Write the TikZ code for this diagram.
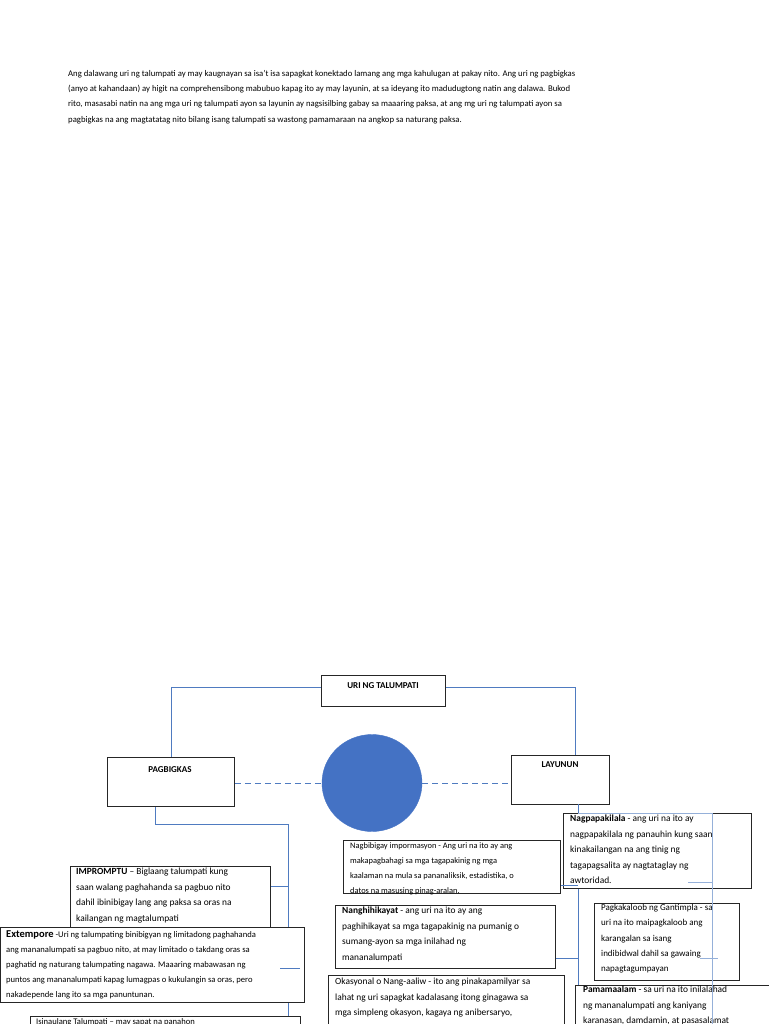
\documentclass[tikz,border=0pt]{standalone}
\usepackage{fontspec}
\setmainfont{Carlito}
\usetikzlibrary{shapes.geometric}
\definecolor{ln}{HTML}{4F7BC0}
\definecolor{blu}{HTML}{4472C4}
\begin{document}
\begin{tikzpicture}[x=1pt,y=-1pt,
  box/.style={draw=black!85,line width=0.9pt,fill=white,anchor=north west,inner sep=0pt},
  txt/.style={anchor=north west,align=left,font=\fontsize{9.4}{15.5}\selectfont,inner sep=0pt},
  cn/.style={ln,line width=0.7pt}]
\useasboundingbox (0,0) rectangle (768,1024);
\fill[white] (0,0) rectangle (768,1024);
\node[anchor=north west,inner sep=0pt,align=left,font=\fontsize{8.7}{15.3}\selectfont] (para) at (68,70)
{Ang dalawang uri ng talumpati ay may kaugnayan sa isa't isa sapagkat konektado lamang ang mga kahulugan at pakay nito. Ang uri ng pagbigkas\\(anyo at kahandaan) ay higit na comprehensibong mabubuo kapag ito ay may layunin, at sa ideyang ito madudugtong natin ang dalawa. Bukod\\rito, masasabi natin na ang mga uri ng talumpati ayon sa layunin ay nagsisilbing gabay sa maaaring paksa, at ang mg uri ng talumpati ayon sa\\pagbigkas na ang magtatatag nito bilang isang talumpati sa wastong pamamaraan na angkop sa naturang paksa.};
% connectors
\coordinate (c1) at (171,687); \coordinate (c2) at (575,687);
\coordinate (c3) at (155,824); \coordinate (c4) at (288,824); \coordinate (c5) at (288,1024);
\coordinate (c6) at (578,804); \coordinate (c7) at (578,1024);
\node[box,minimum width=124pt,minimum height=31pt] (uri) at (321,675) {};
\node[font=\fontsize{9}{10}\bfseries\selectfont] (urit) at (383,686) {URI NG TALUMPATI};
\node[box,minimum width=127pt,minimum height=49pt] (pag) at (107,757) {};
\node[font=\fontsize{9}{10}\bfseries\selectfont] (pagt) at (170,770) {PAGBIGKAS};
\node[box,minimum width=98pt,minimum height=49pt] (lay) at (511,755) {};
\node[font=\fontsize{9}{10}\bfseries\selectfont] (layt) at (560,765) {LAYUNUN};
\node[draw=blu,fill=blu,ellipse,minimum width=100pt,minimum height=97pt,inner sep=0pt] (circ) at (372,783) {};
\draw[cn] (uri.west|-c1) -- (c1) -- (c1|-pag.north);
\draw[cn] (uri.east|-c2) -- (c2) -- (c2|-lay.north);
\draw[cn,dash pattern=on 6pt off 4pt] (pag.east|-circ) -- (circ.west);
\draw[cn,dash pattern=on 6pt off 4pt] (circ.east) -- (lay.west|-circ);
\draw[cn] (c3|-pag.south) -- (c3) -- (c4) -- (c5);
\draw[cn] (c6) -- (c7);
% left boxes
\node[box,minimum width=200pt,minimum height=62pt] (imp) at (70,866) {};
\node[txt] (impt) at (76,868) {\textbf{IMPROMPTU} -- Biglaang talumpati kung\\saan walang paghahanda sa pagbuo nito\\dahil ibinibigay lang ang paksa sa oras na\\kailangan ng magtalumpati};
\node[box,minimum width=304pt,minimum height=75pt] (ext) at (0,927) {};
\node[txt,font=\fontsize{8.6}{15}\selectfont] (extt) at (6,930) {{\fontsize{10.5}{11}\selectfont\textbf{Extempore}} -Uri ng talumpating binibigyan ng limitadong paghahanda\\ang mananalumpati sa pagbuo nito, at may limitado o takdang oras sa\\paghatid ng naturang talumpating nagawa. Maaaring mabawasan ng\\puntos ang mananalumpati kapag lumagpas o kukulangin sa oras, pero\\nakadepende lang ito sa mga panuntunan.};
\node[box,minimum width=270pt,minimum height=20pt] (isi) at (30,1016) {};
\node[txt,font=\fontsize{8.6}{15}\selectfont] (isit) at (36,1018) {Isinaulang Talumpati -- may sapat na panahon};
\draw[cn] (imp.east|-0,886) -- (c4|-0,886);
\draw[cn] (280,968) -- (300,968);
% right boxes
\node[box,minimum width=188pt,minimum height=75pt] (nagp) at (563,813) {};
\node[txt] (nagpt) at (570,815) {\textbf{Nagpapakilala} - ang uri na ito ay\\nagpapakilala ng panauhin kung saan\\kinakailangan na ang tinig ng\\tagapagsalita ay nagtataglay ng\\awtoridad.};
\node[box,minimum width=217pt,minimum height=53pt] (nagb) at (343,840) {};
\node[txt,font=\fontsize{8.4}{15}\selectfont] (nagbt) at (350,842) {Nagbibigay impormasyon -  Ang uri na ito ay ang\\makapagbahagi sa mga tagapakinig ng mga\\kaalaman na mula sa pananaliksik, estadistika, o\\datos na masusing pinag-aralan.};
\node[box,minimum width=220pt,minimum height=63pt] (nang) at (335,905) {};
\node[txt] (nangt) at (342,907) {\textbf{Nanghihikayat} - ang uri na ito ay ang\\paghihikayat sa mga tagapakinig na pumanig o\\sumang-ayon sa mga inilahad ng\\mananalumpati};
\node[box,minimum width=145pt,minimum height=77pt] (pagk) at (594,903) {};
\node[txt,font=\fontsize{9}{15.3}\selectfont] (pagkt) at (601,904) {Pagkakaloob ng Gantimpla - sa\\uri na ito maipagkaloob ang\\karangalan sa isang\\indibidwal dahil sa gawaing\\napagtagumpayan};
\node[box,minimum width=236pt,minimum height=60pt] (oka) at (328,975) {};
\node[txt] (okat) at (335,978) {Okasyonal o Nang-aaliw - ito ang pinakapamilyar sa\\lahat ng uri sapagkat kadalasang itong ginagawa sa\\mga simpleng okasyon, kagaya ng anibersaryo,};
\node[box,minimum width=200pt,minimum height=50pt] (pam) at (575,985) {};
\node[txt] (pamt) at (583,986) {\textbf{Pamamaalam} - sa uri na ito inilalahad\\ng mananalumpati ang kaniyang\\karanasan, damdamin, at pasasalamat};
\draw[cn] (nagb.east|-0,885) -- (c6|-0,885);
\draw[cn] (nang.east|-0,958) -- (c6|-0,958);
\draw[cn,ln!60] (c6|-nagp.north) -- (712,813) -- (712,1024);
\draw[cn,ln!60] (688,882) -- (712,882);
\draw[cn,ln!60] (700,958) -- (718,958);
\end{tikzpicture}
\end{document}
